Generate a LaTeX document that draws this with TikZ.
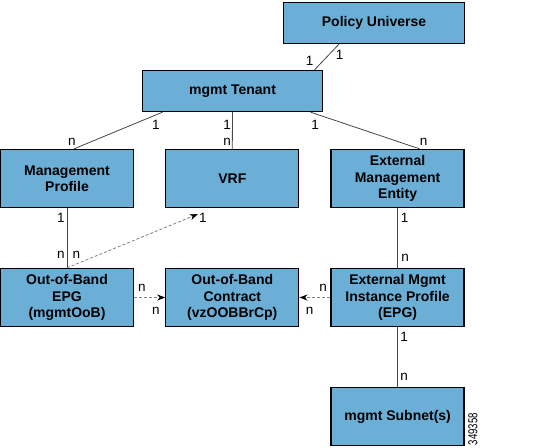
\documentclass[tikz,border=0pt]{standalone}
\usepackage{fontspec}
\setmainfont{Liberation Sans}
\usetikzlibrary{positioning,arrows.meta,calc}

\definecolor{mgmtblue}{RGB}{107,174,214}
\definecolor{linkgray}{RGB}{70,70,70}

\tikzset{
  mobox/.style={draw=black, line width=1.3pt, fill=mgmtblue, align=center,
    font=\fontsize{14}{16.5}\selectfont\bfseries,
    minimum width=133pt, minimum height=58pt, inner sep=2pt},
  mult/.style={font=\fontsize{13.5}{16}\selectfont, inner sep=0pt},
  rel/.style={draw=linkgray, line width=0.8pt},
  ref/.style={draw=gray, line width=0.8pt, dash pattern=on 3pt off 2pt,
    -{Stealth[length=8pt,width=6pt,color=black]}},
}

\begin{document}
\begin{tikzpicture}[x=1pt, y=1pt, node distance=59.7pt and 31pt]
  \useasboundingbox (0,0) rectangle (537,-447);

  % objects
  \node[mobox, minimum width=181pt, minimum height=41pt] (pu) at (374,-23) {Policy Universe};
  \node[mobox, minimum width=180pt, minimum height=41pt] (mt) at (232.5,-91) {mgmt Tenant};
  \node[mobox] (mp) at (67,-178.5) {Management\\Profile};
  \node[mobox] (vrf) [right=of mp] {VRF};
  \node[mobox] (eme) [right=of vrf] {External\\Management\\Entity};
  \node[mobox] (oob) [below=of mp] {Out-of-Band\\EPG\\(mgmtOoB)};
  \node[mobox] (con) [below=of vrf] {Out-of-Band\\Contract\\(vzOOBBrCp)};
  \node[mobox] (emi) [below=of eme] {External Mgmt\\Instance Profile\\(EPG)};
  \node[mobox] (sub) [below=of emi] {mgmt Subnet(s)};

  \coordinate (vrfref) at ($(vrf.south)+(-34.5,-6)$);

  % containment
  \draw[rel] ($(pu.south)+(-35,0)$) -- ($(mt.north)+(82,0)$);
  \draw[rel] ($(mt.south)+(-70,0)$) -- ($(mp.north)+(7,0)$);
  \draw[rel] (mt.south) -- (vrf.north);
  \draw[rel] ($(mt.south)+(78,0)$) -- ($(eme.north)+(22,0)$);
  \draw[rel] (mp.south) -- (oob.north);
  \draw[rel] (eme.south) -- (emi.north);
  \draw[rel] (emi.south) -- (sub.north);

  % references
  \draw[ref] (oob.north) -- (vrfref);
  \draw[ref] (oob.east) -- (con.west);
  \draw[ref] (emi.west) -- (con.east);

  % multiplicities
  \node[mult] (puA) at (339.5,-55) {1};
  \node[mult] (puB) at (309.5,-61) {1};
  \node[mult] (mtA) at (156,-125) {1};
  \node[mult] (mpA) at (72,-142) {n};
  \node[mult] (mtB) at (227,-125) {1};
  \node[mult] (vrfA) at (227,-142) {n};
  \node[mult] (mtC) at (315,-125) {1};
  \node[mult] (emeA) at (423.5,-142) {n};
  \node[mult] (mpB) at (61,-218) {1};
  \node[mult] (oobA) at (61,-255) {n};
  \node[mult] (oobB) at (76.5,-255) {n};
  \node[mult] (vrfB) at (203,-218) {1};
  \node[mult] (emeB) at (404.5,-218) {1};
  \node[mult] (emiA) at (405,-258) {n};
  \node[mult] (oobC) at (142,-287.5) {n};
  \node[mult] (conA) at (156,-311) {n};
  \node[mult] (emiB) at (323,-287.5) {n};
  \node[mult] (conB) at (309.5,-311) {n};
  \node[mult] (emiC) at (404,-337) {1};
  \node[mult] (subA) at (404,-377) {n};

  \node[font=\fontsize{13}{13}\selectfont, inner sep=0pt, rotate=90] (figid) at (473,-429) {\scalebox{0.74}[1]{349358}};
\end{tikzpicture}
\end{document}
